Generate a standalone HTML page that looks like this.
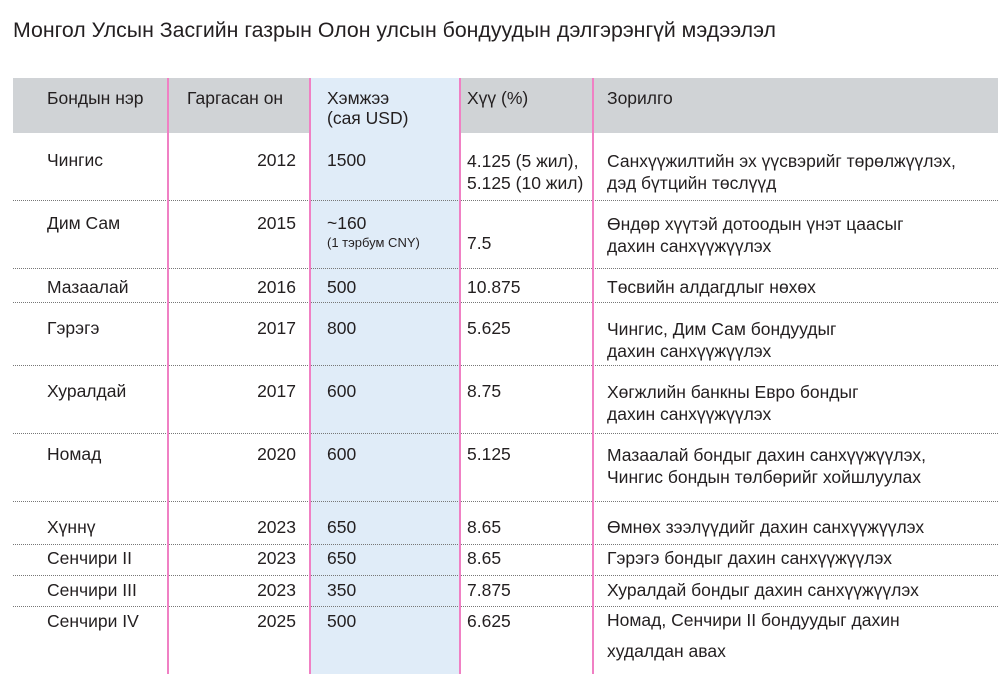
<!DOCTYPE html><html><head><meta charset="utf-8"><style>
body{margin:0;width:1000px;height:674px;background:#fff;position:relative;overflow:hidden;font-family:"Liberation Sans","DejaVu Sans",sans-serif;color:#231f20}
.a{position:absolute;font-size:17.5px;line-height:20px;white-space:nowrap}
.r{text-align:right;width:140px}
.v{position:absolute;top:78px;bottom:0;width:2px;background:#f080c4}
.d{position:absolute;border-top:1px dotted #777;height:0}
</style></head><body>
<div class="a" style="left:13px;top:17px;font-size:21.3px;line-height:26px">Монгол Улсын Засгийн газрын Олон улсын бондуудын дэлгэрэнгүй мэдээлэл</div>
<div style="position:absolute;left:13px;top:78px;width:985px;height:55px;background:#d0d3d6"></div>
<div style="position:absolute;left:310px;top:78px;width:150px;height:596px;background:#e0ecf8"></div>
<div class="d" style="top:200px;left:13px;width:985px"></div>
<div class="d" style="top:268px;left:13px;width:985px"></div>
<div class="d" style="top:302px;left:13px;width:985px"></div>
<div class="d" style="top:365px;left:13px;width:985px"></div>
<div class="d" style="top:433px;left:13px;width:985px"></div>
<div class="d" style="top:501px;left:13px;width:985px"></div>
<div class="d" style="top:544px;left:13px;width:985px"></div>
<div class="d" style="top:575px;left:13px;width:985px"></div>
<div class="d" style="top:606px;left:13px;width:985px"></div>
<div class="v" style="left:167px"></div><div class="v" style="left:309px"></div><div class="v" style="left:459px"></div><div class="v" style="left:592px"></div>

<div class="a" style="left:47px;top:88px">Бондын нэр</div>
<div class="a" style="left:187px;top:88px">Гаргасан он</div>
<div class="a" style="left:327px;top:88px">Хэмжээ<br>(сая USD)</div>
<div class="a" style="left:467px;top:88px">Хүү (%)</div>
<div class="a" style="left:607px;top:88px">Зорилго</div>

<div class="a" style="left:47px;top:150px">Чингис</div><div class="a r" style="left:156px;top:150px">2012</div><div class="a" style="left:327px;top:150px">1500</div><div class="a" style="left:467px;top:150px;line-height:22px">4.125 (5 жил),<br>5.125 (10 жил)</div><div class="a" style="left:607px;top:150px;line-height:22px">Санхүүжилтийн эх үүсвэрийг төрөлжүүлэх,<br>дэд бүтцийн төслүүд</div>

<div class="a" style="left:47px;top:213px">Дим Сам</div><div class="a r" style="left:156px;top:213px">2015</div><div class="a" style="left:327px;top:213px">~160</div><div class="a" style="left:327px;top:236px;font-size:13px;line-height:14px">(1 тэрбум CNY)</div><div class="a" style="left:467px;top:233px">7.5</div><div class="a" style="left:607px;top:213px;line-height:22px">Өндөр хүүтэй дотоодын үнэт цаасыг<br>дахин санхүүжүүлэх</div>

<div class="a" style="left:47px;top:277px">Мазаалай</div><div class="a r" style="left:156px;top:277px">2016</div><div class="a" style="left:327px;top:277px">500</div><div class="a" style="left:467px;top:277px">10.875</div><div class="a" style="left:607px;top:277px">Төсвийн алдагдлыг нөхөх</div>

<div class="a" style="left:47px;top:318px">Гэрэгэ</div><div class="a r" style="left:156px;top:318px">2017</div><div class="a" style="left:327px;top:318px">800</div><div class="a" style="left:467px;top:318px">5.625</div><div class="a" style="left:607px;top:318px;line-height:22px">Чингис, Дим Сам бондуудыг<br>дахин санхүүжүүлэх</div>

<div class="a" style="left:47px;top:381px">Хуралдай</div><div class="a r" style="left:156px;top:381px">2017</div><div class="a" style="left:327px;top:381px">600</div><div class="a" style="left:467px;top:381px">8.75</div><div class="a" style="left:607px;top:381px;line-height:22px">Хөгжлийн банкны Евро бондыг<br>дахин санхүүжүүлэх</div>

<div class="a" style="left:47px;top:444px">Номад</div><div class="a r" style="left:156px;top:444px">2020</div><div class="a" style="left:327px;top:444px">600</div><div class="a" style="left:467px;top:444px">5.125</div><div class="a" style="left:607px;top:444px;line-height:22px">Мазаалай бондыг дахин санхүүжүүлэх,<br>Чингис бондын төлбөрийг хойшлуулах</div>

<div class="a" style="left:47px;top:517px">Хүннү</div><div class="a r" style="left:156px;top:517px">2023</div><div class="a" style="left:327px;top:517px">650</div><div class="a" style="left:467px;top:517px">8.65</div><div class="a" style="left:607px;top:517px">Өмнөх зээлүүдийг дахин санхүүжүүлэх</div>

<div class="a" style="left:47px;top:548px">Сенчири II</div><div class="a r" style="left:156px;top:548px">2023</div><div class="a" style="left:327px;top:548px">650</div><div class="a" style="left:467px;top:548px">8.65</div><div class="a" style="left:607px;top:548px">Гэрэгэ бондыг дахин санхүүжүүлэх</div>

<div class="a" style="left:47px;top:580px">Сенчири III</div><div class="a r" style="left:156px;top:580px">2023</div><div class="a" style="left:327px;top:580px">350</div><div class="a" style="left:467px;top:580px">7.875</div><div class="a" style="left:607px;top:580px">Хуралдай бондыг дахин санхүүжүүлэх</div>

<div class="a" style="left:47px;top:611px">Сенчири IV</div><div class="a r" style="left:156px;top:611px">2025</div><div class="a" style="left:327px;top:611px">500</div><div class="a" style="left:467px;top:611px">6.625</div><div class="a" style="left:607px;top:605px;line-height:31px">Номад, Сенчири II бондуудыг дахин<br>худалдан авах</div>
</body></html>
